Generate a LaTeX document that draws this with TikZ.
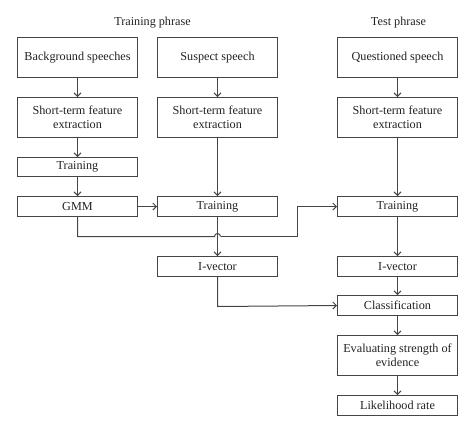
\documentclass[tikz,border=0pt]{standalone}
\usepackage{fontspec}
\setmainfont{Liberation Serif}
\usetikzlibrary{arrows.meta}
\definecolor{lncol}{HTML}{454545}
\definecolor{tx}{HTML}{222222}
\begin{document}
\begin{tikzpicture}[x=1pt,y=-1pt,
  box/.style={draw=lncol,line width=1pt,text=tx,align=center,inner sep=0pt,font=\fontsize{12.2}{13.5}\selectfont},
  arr/.style={draw=lncol,line width=1pt,-{Straight Barb[length=3.5pt,width=7pt]}},
  plain/.style={draw=lncol,line width=1pt},
  ttl/.style={text=tx,font=\fontsize{12.2}{14}\selectfont}]
\useasboundingbox (0,0) rectangle (474,432);
\begin{scope}[shift={(0.5,0.5)}]
\node[ttl] (t1) at (152,22) {Training phrase};
\node[ttl] (t2) at (398,22) {Test phrase};
% left column
\node[box,minimum width=120pt,minimum height=40pt] (bg) at (77,57) {Background speeches};
\node[box,minimum width=120pt,minimum height=40pt] (f1) at (77,117) {Short-term feature\\extraction};
\node[box,minimum width=120pt,minimum height=19pt] (tr1) at (77,166.5) {Training};
\node[box,minimum width=120pt,minimum height=20pt] (gmm) at (77,206) {GMM};
% middle column
\node[box,minimum width=120pt,minimum height=40pt] (sp) at (217,57) {Suspect speech};
\node[box,minimum width=120pt,minimum height=40pt] (f2) at (217,117) {Short-term feature\\extraction};
\node[box,minimum width=120pt,minimum height=20pt] (tr2) at (217,206) {Training};
\node[box,minimum width=120pt,minimum height=20pt] (iv1) at (217,266) {I-vector};
% right column
\node[box,minimum width=120pt,minimum height=40pt] (qs) at (397,57) {Questioned speech};
\node[box,minimum width=120pt,minimum height=40pt] (f3) at (397,117) {Short-term feature\\extraction};
\node[box,minimum width=120pt,minimum height=20pt] (tr3) at (397,206) {Training};
\node[box,minimum width=120pt,minimum height=20pt] (iv2) at (397,266) {I-vector};
\node[box,minimum width=120pt,minimum height=20pt] (cl) at (397,305) {Classification};
\node[box,minimum width=120pt,minimum height=40pt] (ev) at (397,355) {Evaluating strength of\\evidence};
\node[box,minimum width=120pt,minimum height=20pt] (lr) at (397,405) {Likelihood rate};
% arrows
\draw[arr] (bg) -- (f1);
\draw[arr] (f1) -- (tr1);
\draw[arr] (tr1) -- (gmm);
\draw[arr] (sp) -- (f2);
\draw[arr] (f2) -- (tr2);
\draw[arr] (gmm) -- (tr2);
\draw[arr] (tr2) -- (iv1);
\draw[arr] (qs) -- (f3);
\draw[arr] (f3) -- (tr3);
\draw[arr] (tr3) -- (iv2);
\draw[arr] (iv2) -- (cl);
\draw[arr] (cl) -- (ev);
\draw[arr] (ev) -- (lr);
\coordinate (j1) at (214,236);
\coordinate (j2) at (220,236);
\draw[plain] (gmm.south) -- (77,236) -- (j1) arc[start angle=180,end angle=0,radius=3pt];
\draw[arr] (j2) -- (297,236) -- (297,206) -- (tr3.west);
\draw[arr] (iv1.south) -- (217,306) -- (cl.west);
\end{scope}
\end{tikzpicture}
\end{document}
